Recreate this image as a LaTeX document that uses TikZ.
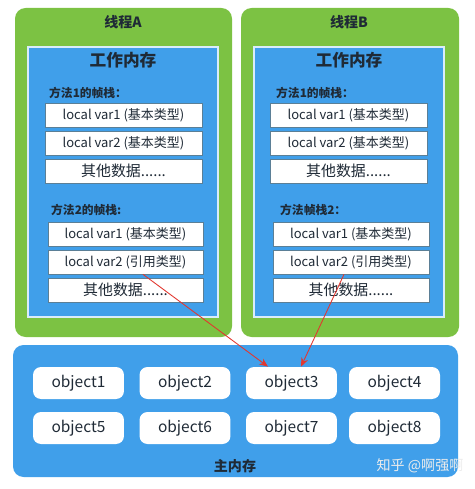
\documentclass[tikz,border=0pt]{standalone}
\usepackage{fontspec}
\setmainfont{Noto Sans CJK SC}
\usetikzlibrary{arrows.meta}
\definecolor{thgreen}{HTML}{7CC243}
\definecolor{memblue}{HTML}{409FEA}
\definecolor{txtdark}{HTML}{1F2A36}
\definecolor{cellline}{HTML}{5B7F96}
\definecolor{refred}{HTML}{E2372F}
\begin{document}
\begin{tikzpicture}[x=0.02cm,y=-0.02cm,
  cell/.style={draw=cellline,line width=0.4pt,fill=white,minimum width=3.14cm,minimum height=0.48cm,inner sep=0pt,font=\fontsize{7.4}{8}\selectfont,text=txtdark},
  obj/.style={fill=white,rounded corners=0.16cm,minimum width=1.82cm,minimum height=0.64cm,inner sep=0pt,font=\fontsize{8.8}{9}\selectfont,text=txtdark},
  title/.style={font=\fontsize{8}{9}\selectfont\bfseries,text=txtdark},
  frame/.style={anchor=west,font=\fontsize{6.7}{8}\selectfont\bfseries,text=txtdark},
  ref/.style={refred,line width=0.5pt,-{Stealth[length=5pt,width=4pt]}}]
\useasboundingbox (0,0) rectangle (474,489);
% threads
\fill[thgreen,rounded corners=6] (15,8) rectangle (232,337);
\fill[thgreen,rounded corners=6] (241,8) rectangle (459,337);
\draw[memblue,fill=memblue,draw=white!80!memblue,line width=0.8pt] (28,47) rectangle (218,317);
\draw[memblue,fill=memblue,draw=white!80!memblue,line width=0.8pt] (254,47) rectangle (444,317);
\node[title] (thA) at (123,22) {线程A};
\node[title] (thB) at (349,22) {线程B};
\node[title,font=\fontsize{9.5}{10}\selectfont\bfseries] (wmA) at (123,60) {工作内存};
\node[title,font=\fontsize{9.5}{10}\selectfont\bfseries] (wmB) at (349,60) {工作内存};
% thread A
\node[frame] (fA1) at (43,93) {方法1的帧栈：};
\node[cell] (a1v1) at (123.5,115) {local var1 (基本类型)};
\node[cell] (a1v2) at (123.5,143) {local var2 (基本类型)};
\node[cell,font=\fontsize{8.5}{9}\selectfont] (a1o) at (123.5,171) {其他数据......};
\node[frame] (fA2) at (45,210) {方法2的帧栈:};
\node[cell,minimum width=3.1cm] (a2v1) at (125.5,234) {local var1 (基本类型)};
\node[cell,minimum width=3.1cm] (a2v2) at (125.5,262) {local var2 (引用类型)};
\node[cell,minimum width=3.1cm,font=\fontsize{8.5}{9}\selectfont] (a2o) at (125.5,290) {其他数据......};
% thread B
\node[frame] (fB1) at (270,93) {方法1的帧栈：};
\node[cell] (b1v1) at (348.5,115) {local var1 (基本类型)};
\node[cell] (b1v2) at (348.5,143) {local var2 (基本类型)};
\node[cell,font=\fontsize{8.5}{9}\selectfont] (b1o) at (348.5,171) {其他数据......};
\node[frame] (fB2) at (274,210) {方法帧栈2：};
\node[cell,minimum width=3.12cm] (b2v1) at (351,234) {local var1 (基本类型)};
\node[cell,minimum width=3.12cm] (b2v2) at (351,262) {local var2 (引用类型)};
\node[cell,minimum width=3.12cm,font=\fontsize{8.5}{9}\selectfont] (b2o) at (351,290) {其他数据......};
% main memory
\fill[memblue,rounded corners=6] (13,345) rectangle (458,477);
\node[obj] (o1) at (78.5,383) {object1};
\node[obj] (o2) at (185,383) {object2};
\node[obj] (o3) at (291.5,383) {object3};
\node[obj] (o4) at (394.5,383) {object4};
\node[obj] (o5) at (78.5,428) {object5};
\node[obj] (o6) at (185,428) {object6};
\node[obj] (o7) at (291.5,428) {object7};
\node[obj] (o8) at (394.5,428) {object8};
\node[title] (mm) at (235,466) {主内存};
\node[font=\fontsize{8}{9}\selectfont,text=white!85!gray] (wm) at (420,466) {知乎 @啊强啊};
% references
\draw[ref] ([xshift=0.35cm]a2v2.south) -- ([xshift=-0.47cm]o3.north);
\draw[ref] ([xshift=-0.14cm]b2v2.south) -- ([xshift=0.19cm]o3.north);
\end{tikzpicture}
\end{document}
